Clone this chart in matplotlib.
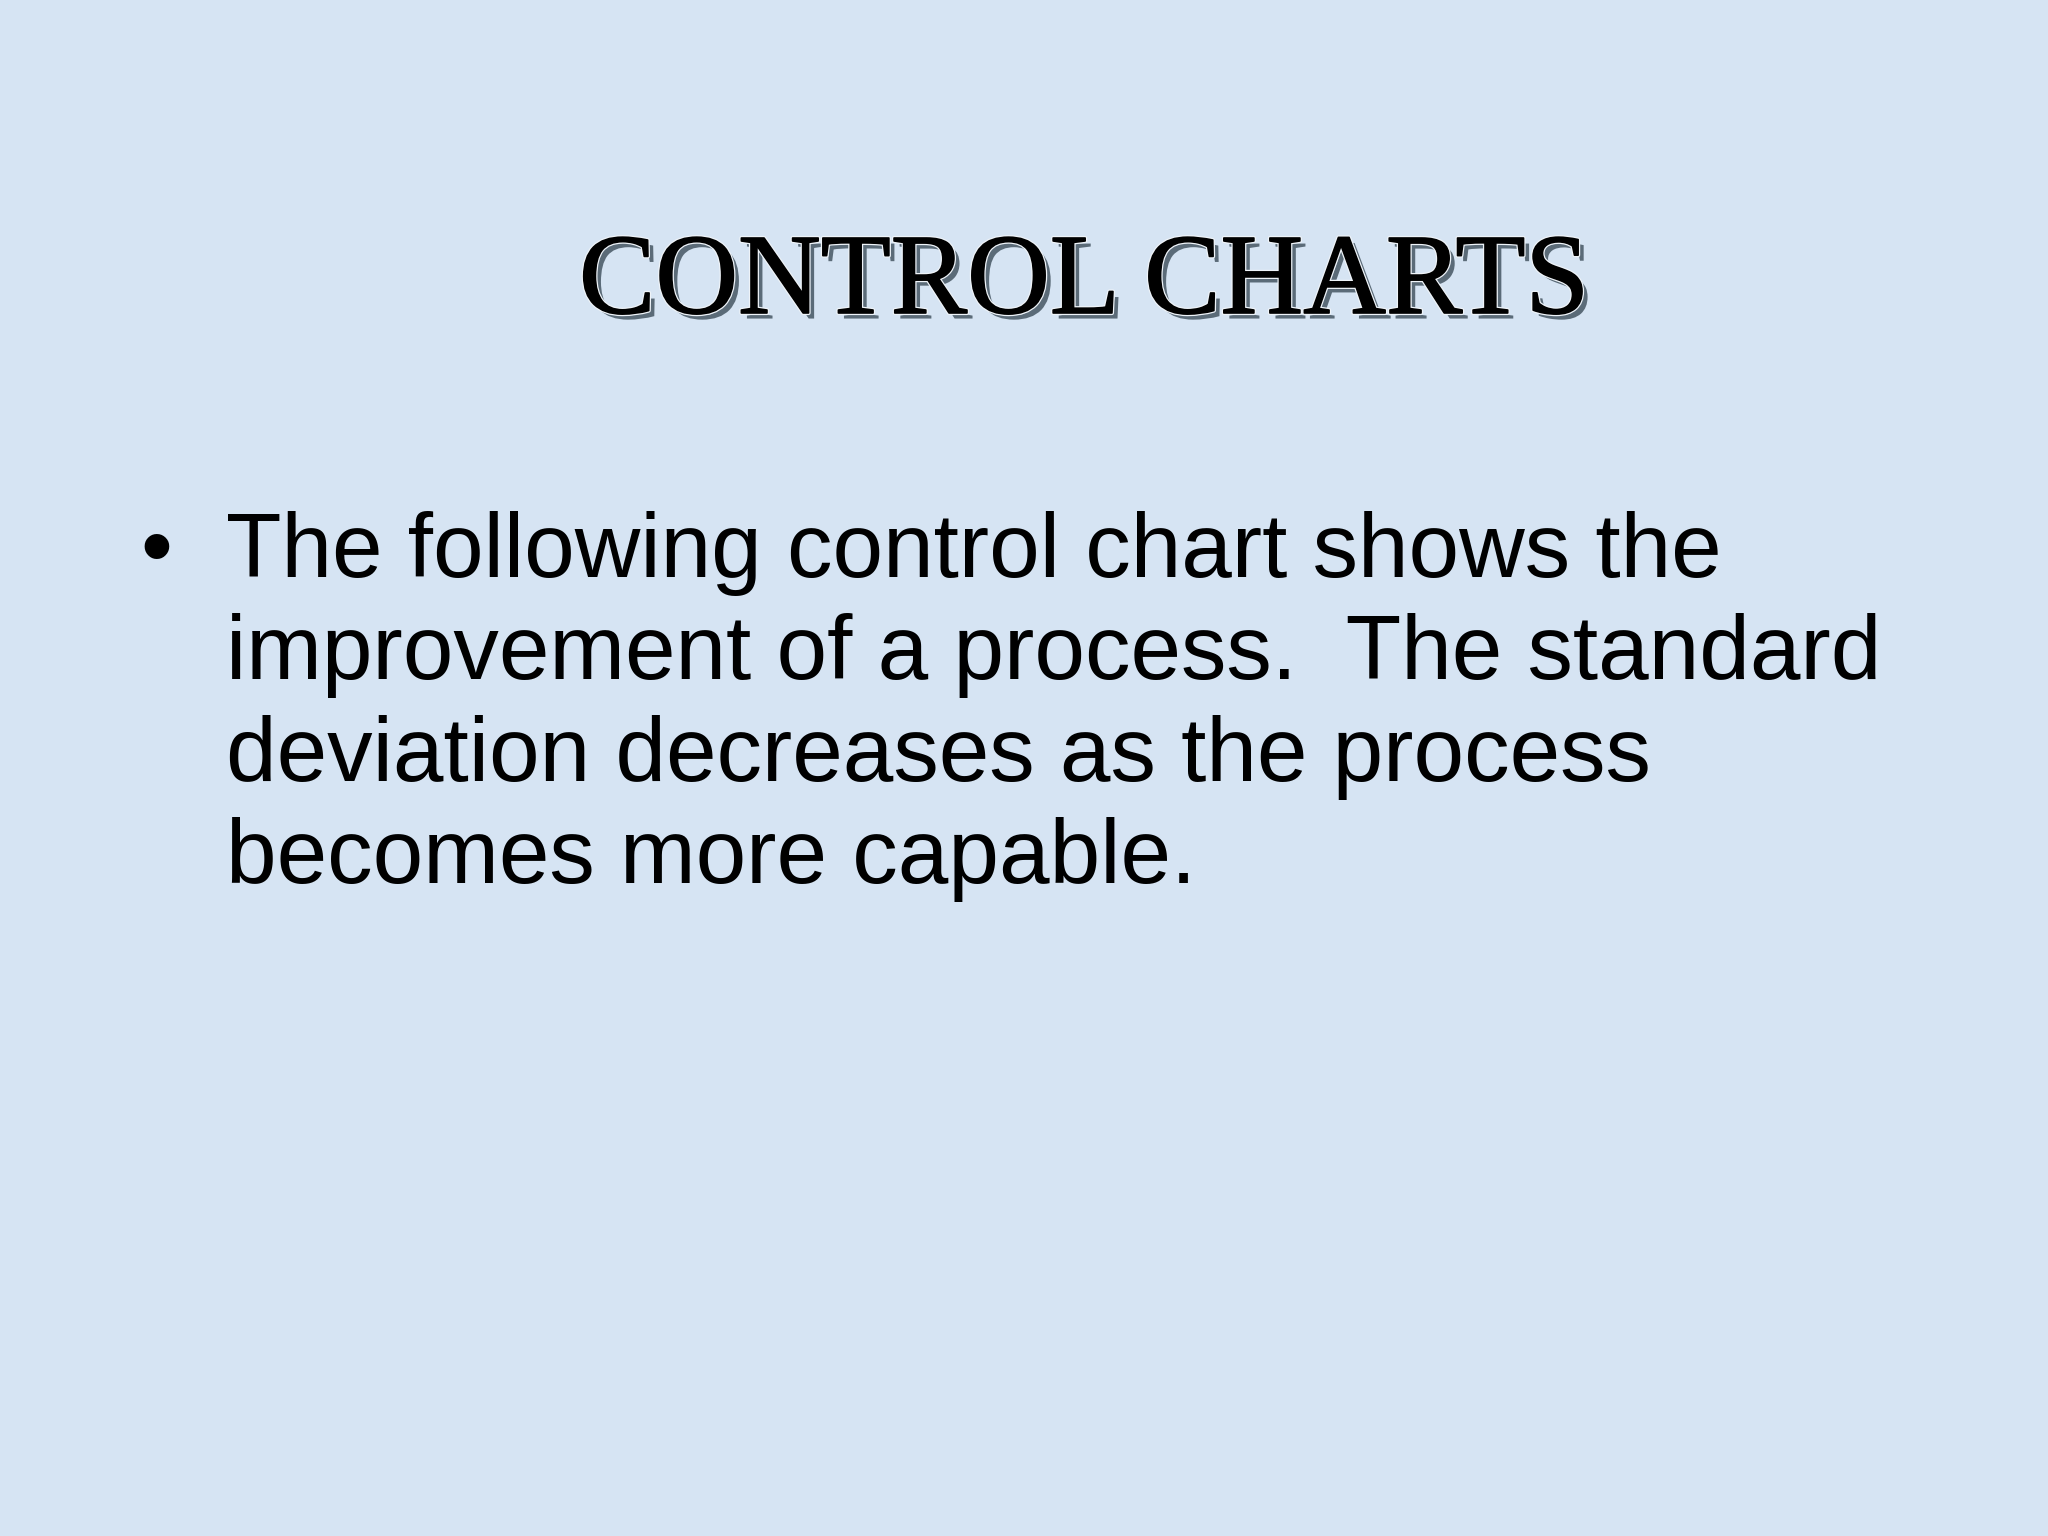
import matplotlib
matplotlib.use("Agg")
import matplotlib.pyplot as plt
import matplotlib.patheffects as pe

# slide content
title = "CONTROL CHARTS"
bullet_lines = [
    "The following control chart shows the",
    "improvement of a process.  The standard",
    "deviation decreases as the process",
    "becomes more capable.",
]

W, H = 2048, 1536
bg = "#d6e4f3"
fig = plt.figure(figsize=(W / 100, H / 100), dpi=100)
fig.patch.set_facecolor(bg)
ax = fig.add_axes([0, 0, 1, 1])
ax.set_xlim(0, W)
ax.set_ylim(H, 0)
ax.axis("off")
ax.set_facecolor(bg)

renderer = fig.canvas.get_renderer()


def fit_size(txt, target_w, start):
    # scale font size so the text spans target width in pixels
    w = txt.get_window_extent(renderer).width
    return start * target_w / w


# title, serif with a grey drop shadow and light rim
t = ax.text(579, 313, title, fontsize=80, family="Liberation Serif",
            fontweight="normal", color="black", ha="left", va="baseline")
t.set_fontsize(fit_size(t, 1010, 80))
t.set_path_effects([
    pe.SimplePatchShadow(offset=(4, -4), shadow_rgbFace="#5b6b78", alpha=1.0),
    pe.Stroke(linewidth=3, foreground="#eef3f8"),
    pe.Stroke(linewidth=1.2, foreground="black"),
    pe.Normal(),
])

# bullet body text
body_font = "Liberation Sans"
probe = ax.text(0, -500, bullet_lines[1], fontsize=64, family=body_font)
size = fit_size(probe, 1655, 64)
probe.remove()

x0, y0, step = 226, 577, 102
ax.text(140, y0, "\u2022", fontsize=size, family=body_font, ha="left",
        va="baseline", color="black")
for i, line in enumerate(bullet_lines):
    ax.text(x0, y0 + i * step, line, fontsize=size, family=body_font,
            ha="left", va="baseline", color="black")

plt.savefig("out.png", dpi=100, facecolor=fig.get_facecolor())
